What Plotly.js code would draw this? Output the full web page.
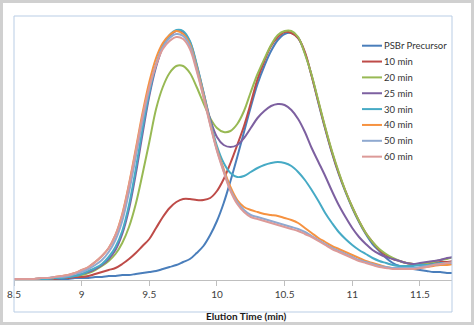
<!DOCTYPE html>
<html>
<head>
<meta charset="utf-8">
<script src="https://cdn.plot.ly/plotly-3.0.1.min.js"></script>
<style>
  html, body { margin: 0; padding: 0; background: #ffffff; }
  #chart { width: 474px; height: 325px; }
</style>
</head>
<body>
<div id="chart"></div>
<script>
// Elution time grid (min), sampled every 0.05 min
const elutionTime = [
  8.50, 8.55, 8.60, 8.65, 8.70, 8.75, 8.80, 8.85, 8.90, 8.95,
  9.00, 9.05, 9.10, 9.15, 9.20, 9.25, 9.30, 9.35, 9.40, 9.45,
  9.50, 9.55, 9.60, 9.65, 9.70, 9.75, 9.80, 9.85, 9.90, 9.95,
  10.00, 10.05, 10.10, 10.15, 10.20, 10.25, 10.30, 10.35, 10.40, 10.45,
  10.50, 10.55, 10.60, 10.65, 10.70, 10.75, 10.80, 10.85, 10.90, 10.95,
  11.00, 11.05, 11.10, 11.15, 11.20, 11.25, 11.30, 11.35, 11.40, 11.45,
  11.50, 11.55, 11.60, 11.65, 11.70, 11.75];

// Detector response (arbitrary units) for each sample
const psbrPrecursor = [
  0, 0, 0, 0, 0, 0, 0, 0, 0, 1,
  1, 1, 2, 2, 3, 3, 4, 4, 5, 6,
  7, 8, 10, 12, 14, 17, 20, 26, 33, 44,
  58, 76, 98, 122, 147, 172, 195, 213, 228, 239,
  245, 246, 241, 226, 203, 176, 150, 126, 105, 87,
  71, 57, 45, 35, 28, 21, 16, 13, 11, 10,
  9, 8, 7, 7, 6, 6];
const min10 = [
  0, 0, 0, 0, 0, 0, 0, 1, 1, 2,
  2, 3, 5, 7, 9, 11, 15, 20, 26, 33,
  40, 51, 62, 71, 77, 80, 80, 79, 79, 81,
  88, 100, 116, 134, 153, 176, 200, 218, 233, 242,
  247, 246, 241, 227, 203, 177, 151, 127, 106, 88,
  72, 58, 46, 37, 29, 24, 20, 18, 16, 15,
  15, 15, 16, 17, 17, 18];
const min20 = [
  0, 0, 0, 0, 0, 0, 1, 1, 2, 3,
  4, 6, 9, 13, 18, 25, 36, 52, 75, 105,
  137, 170, 192, 206, 213, 213, 206, 192, 176, 161,
  151, 147, 148, 155, 168, 187, 205, 220, 234, 244,
  248, 248, 242, 225, 204, 178, 152, 128, 107, 88,
  72, 58, 46, 37, 30, 25, 21, 18, 16, 15,
  15, 16, 17, 19, 20, 22];
const min25 = [
  0, 0, 0, 0, 0, 0, 1, 1, 2, 3,
  5, 7, 10, 14, 20, 29, 45, 70, 105, 145,
  183, 212, 232, 243, 248, 247, 237, 214, 187, 160,
  142, 134, 132, 134, 141, 151, 161, 168, 173, 175,
  174, 169, 160, 147, 131, 117, 103, 88, 74, 62,
  51, 42, 35, 29, 25, 22, 20, 18, 16, 15,
  16, 17, 18, 19, 21, 22];
const min30 = [
  0, 0, 0, 0, 0, 0, 1, 1, 2, 3,
  5, 8, 11, 15, 22, 32, 48, 74, 110, 150,
  186, 214, 233, 244, 249, 248, 238, 215, 187, 158,
  133, 116, 106, 102, 103, 107, 111, 114, 116, 117,
  116, 113, 107, 99, 89, 78, 66, 56, 47, 40,
  34, 29, 25, 21, 18, 16, 14, 13, 13, 13,
  14, 14, 15, 16, 16, 17];
const min40 = [
  0, 0, 0, 0, 1, 1, 2, 3, 4, 6,
  9, 12, 17, 23, 31, 44, 65, 95, 130, 166,
  197, 221, 236, 244, 248, 245, 235, 212, 185, 156,
  130, 110, 92, 79, 72, 69, 67, 65, 64, 63,
  61, 59, 56, 51, 46, 41, 37, 33, 30, 27,
  24, 21, 18, 16, 14, 12, 11, 10, 10, 10,
  11, 12, 13, 14, 14, 15];
const min50 = [
  0, 0, 0, 0, 1, 1, 2, 2, 3, 5,
  7, 10, 14, 19, 27, 39, 58, 87, 122, 158,
  190, 215, 232, 241, 245, 243, 233, 210, 183, 155,
  129, 108, 89, 77, 69, 64, 62, 60, 58, 56,
  54, 52, 50, 47, 43, 39, 35, 31, 28, 25,
  22, 19, 17, 15, 13, 12, 11, 11, 11, 11,
  12, 13, 14, 15, 16, 16];
const min60 = [
  0, 0, 0, 0, 1, 1, 2, 3, 4, 6,
  9, 12, 17, 23, 31, 44, 64, 94, 128, 163,
  192, 214, 230, 238, 242, 240, 230, 208, 182, 154,
  128, 107, 88, 75, 67, 62, 60, 58, 56, 54,
  52, 50, 48, 45, 42, 38, 34, 30, 27, 24,
  21, 18, 16, 14, 12, 11, 10, 10, 10, 10,
  11, 12, 14, 15, 16, 17];

const seriesNames = ['PSBr Precursor', '10 min', '20 min', '25 min', '30 min', '40 min', '50 min', '60 min'];
const seriesValues = [psbrPrecursor, min10, min20, min25, min30, min40, min50, min60];
const seriesColors = ['#4a7ebb', '#be4b48', '#98b954', '#7d60a0', '#46aac5', '#f69240', '#8fa9d0', '#dc9a98'];

const xTicks = [8.5, 9, 9.5, 10, 10.5, 11, 11.5];
const axisTitle = 'Elution Time (min)';

// Figure geometry (pixels)
const W = 474, H = 325;
const M = { l: 14, r: 22, t: 16, b: 45 };
const plotW = W - M.l - M.r, plotH = H - M.t - M.b;
const fx = p => (p - M.l) / plotW;          // page x -> paper x
const fy = p => (H - M.b - p) / plotH;      // page y -> paper y

const FONT = 'Lato, "Open Sans", sans-serif';

const traces = seriesNames.map((name, i) => ({
  type: 'scatter',
  mode: 'lines',
  name: name,
  x: elutionTime,
  y: seriesValues[i],
  line: { color: seriesColors[i], width: 2, shape: 'spline', smoothing: 1 },
  hoverinfo: 'x+y+name'
}));

const shapes = [
  // outer chart frame
  { type: 'rect', xref: 'paper', yref: 'paper', x0: fx(1.5), x1: fx(472.5), y0: fy(323.5), y1: fy(1.5),
    line: { color: '#d0d0d0', width: 3 }, fillcolor: 'rgba(0,0,0,0)' },
  // plot area border
  { type: 'rect', xref: 'paper', yref: 'paper', x0: 0, x1: 1, y0: fy(312), y1: 1,
    line: { color: '#b9cde5', width: 1 }, fillcolor: 'rgba(0,0,0,0)' }
];

const annotations = [
  { xref: 'paper', yref: 'paper', x: fx(246.5), y: fy(316), xanchor: 'center', yanchor: 'middle',
    text: '<b>' + axisTitle + '</b>', showarrow: false,
    font: { family: FONT, size: 10, color: '#1a1a1a' } }
];

// Legend: short line swatch followed by the series name
seriesNames.forEach((name, i) => {
  const rowY = 45.7 + i * 15.85;
  shapes.push({ type: 'line', xref: 'paper', yref: 'paper', x0: fx(362), x1: fx(382), y0: fy(rowY), y1: fy(rowY),
    line: { color: seriesColors[i], width: 2 } });
  annotations.push({ xref: 'paper', yref: 'paper', x: fx(382), y: fy(rowY), xanchor: 'left', yanchor: 'middle',
    text: name, showarrow: false, font: { family: FONT, size: 9.5, color: '#333333' } });
});

const layout = {
  width: W, height: H,
  margin: M,
  paper_bgcolor: '#ffffff', plot_bgcolor: '#ffffff',
  showlegend: false,
  xaxis: {
    range: [8.5, 8.5 + plotW / 135.3],
    tickvals: xTicks, ticktext: xTicks.map(String),
    showline: true, linecolor: '#bfbfbf', linewidth: 1,
    ticks: 'outside', ticklen: 5, tickcolor: '#bfbfbf', tickwidth: 1,
    tickfont: { family: FONT, size: 10, color: '#404040' },
    showgrid: false, zeroline: false
  },
  yaxis: {
    range: [-1, plotH - 1],
    showticklabels: false, showgrid: false, zeroline: false, showline: false, ticks: ''
  },
  shapes: shapes,
  annotations: annotations
};

Plotly.newPlot('chart', traces, layout, { staticPlot: true, displayModeBar: false });
</script>
</body>
</html>
